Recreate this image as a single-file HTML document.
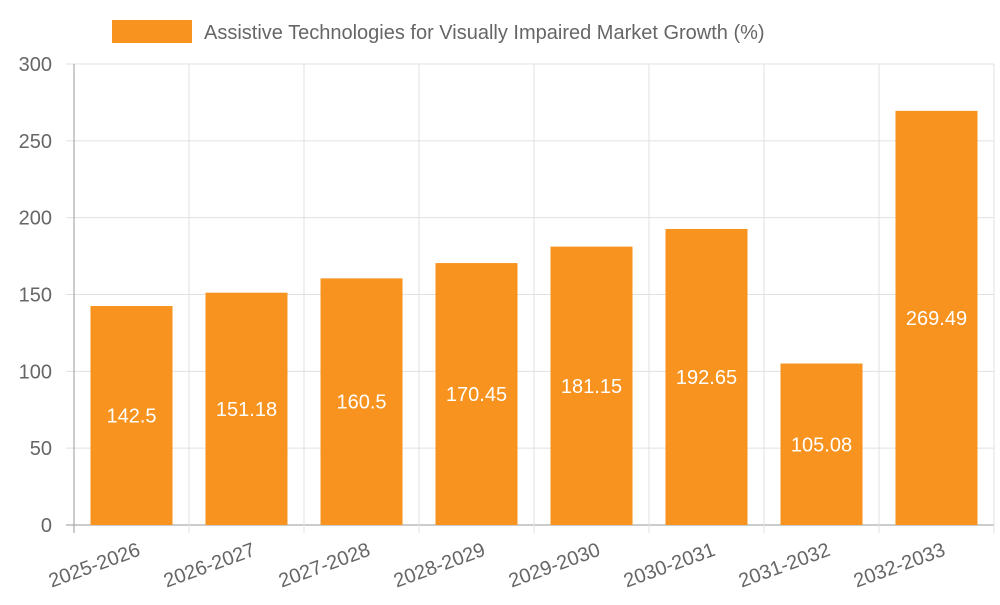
<!DOCTYPE html>
<html><head><meta charset="utf-8"><style>
body{margin:0;background:#fff;width:1000px;height:600px;overflow:hidden;font-family:"Liberation Sans",sans-serif}
</style></head><body>
<svg id="chart" width="1000" height="600" xmlns="http://www.w3.org/2000/svg" font-family="Liberation Sans, sans-serif"></svg>
<script>
const categories=["2025-2026","2026-2027","2027-2028","2028-2029","2029-2030","2030-2031","2031-2032","2032-2033"];
const values=[142.5,151.18,160.5,170.45,181.15,192.65,105.08,269.49];
const yTicks=[0,50,100,150,200,250,300];
const seriesName="Assistive Technologies for Visually Impaired Market Growth (%)";
const svg=document.getElementById('chart');
const NS="http://www.w3.org/2000/svg";
const L=74,R=994,T=64,B=525,yMax=300;
const bw=(R-L)/categories.length;
const y=v=>B-(v/yMax)*(B-T);
const x=i=>L+i*bw;
function mk(tag,attrs,parent){const e=document.createElementNS(NS,tag);for(const k in attrs)e.setAttribute(k,attrs[k]);(parent||svg).appendChild(e);return e;}
// legend
const lg=mk('g',{});


mk('rect',{x:112,y:20,width:80,height:23,fill:'#f7931e'},lg);
const lt=mk('text',{x:204,y:39,'font-size':20,fill:'#666'},lg);lt.textContent=seriesName;
// grid
const grid=mk('g',{});


yTicks.forEach(t=>{
  mk('line',{x1:L-8,x2:R,y1:y(t),y2:y(t),stroke:t===0?'#999':'#e0e0e0','stroke-width':1},grid);
  const tx=mk('text',{x:L-22,y:y(t)+7,'font-size':20,fill:'#666','text-anchor':'end'});
  
  
  tx.textContent=t;
});
for(let i=0;i<=categories.length;i++){
  mk('line',{x1:x(i),x2:x(i),y1:T,y2:B+8,stroke:i===0?'#999':'#e0e0e0','stroke-width':1},grid);
}
// bars
categories.forEach((c,i)=>{
  const cx=x(i)+bw/2, w=82, top=y(values[i]);
  const r=mk('rect',{x:cx-w/2,y:top,width:w,height:B-top,fill:'#f7931e'});
  
  
  const vl=mk('text',{x:cx,y:(top+B)/2+7,'font-size':20,fill:'#fff','text-anchor':'middle'});
  
  
  vl.textContent=values[i];
  const xl=mk('text',{x:cx+10,y:B+30,'font-size':20,fill:'#666','text-anchor':'end',transform:`rotate(-20 ${cx+10} ${B+30})`});
  
  
  xl.textContent=c;
});
</script>
</body></html>
